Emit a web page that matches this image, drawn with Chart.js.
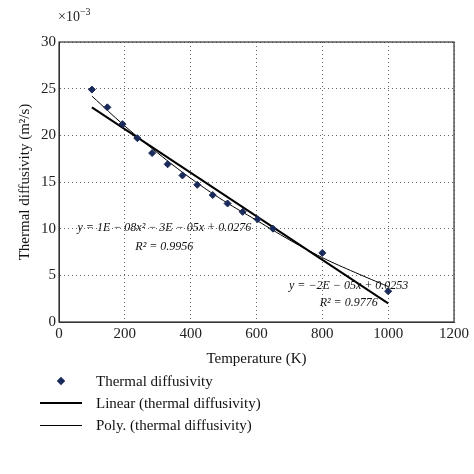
<!DOCTYPE html>
<html>
<head>
<meta charset="utf-8">
<script src="https://cdn.jsdelivr.net/npm/chart.js@4"></script>
<style>
  body { margin: 0; background: #fff; font-family: "Liberation Serif", serif; }
  #wrap { position: relative; width: 474px; height: 372px; }
  #exp { position: absolute; left: 58px; top: 6px; font-size: 14px; color: #222; }
  #legend { position: absolute; left: 40px; top: 370px; font-size: 15px; color: #111; }
  .row { display: flex; align-items: center; height: 22px; }
  .sym { width: 42px; display: flex; justify-content: center; margin-right: 14px; }
</style>
</head>
<body>
<div id="wrap"><canvas id="chart"></canvas><div id="exp">×10<sup style="font-size:10px">−3</sup></div></div>
<div id="legend">
  <div class="row"><div class="sym"><div style="width:6px;height:6px;background:#1a2a5a;transform:rotate(45deg)"></div></div>Thermal diffusivity</div>
  <div class="row"><div class="sym"><div style="width:42px;height:2px;background:#000"></div></div>Linear (thermal diffusivity)</div>
  <div class="row"><div class="sym"><div style="width:42px;height:1px;background:#000"></div></div>Poly. (thermal diffusivity)</div>
</div>
<script>
const temps = [100, 147, 193, 238, 283, 330, 375, 420, 467, 512, 558, 603, 650, 800, 1000];
const diffusivity = [24.9, 23.0, 21.2, 19.7, 18.1, 16.9, 15.7, 14.7, 13.6, 12.7, 11.8, 11.0, 10.0, 7.4, 3.3];
const linearX = [100, 1000];
const linearY = [23.0, 2.0];
const polyX = [100, 200, 300, 400, 500, 600, 700, 800, 900, 1000];
const polyY = [24.2, 21.0, 18.1, 15.4, 13.0, 10.9, 8.8, 6.9, 5.3, 3.8];

const pts = (xs, ys) => xs.map((x, i) => ({x: x, y: ys[i]}));

const labelsPlugin = {
  id: 'eqs',
  afterDatasetsDraw(chart) {
    const c = chart.ctx, xs = chart.scales.x, ys = chart.scales.y;
    c.save();
    c.font = 'italic 12px "Liberation Serif"';
    c.fillStyle = '#111';
    c.textAlign = 'center';
    c.fillText('y = 1E − 08x² − 3E − 05x + 0.0276', xs.getPixelForValue(320), ys.getPixelForValue(9.7));
    c.fillText('R² = 0.9956', xs.getPixelForValue(320), ys.getPixelForValue(7.7));
    c.fillText('y = −2E − 05x + 0.0253', xs.getPixelForValue(880), ys.getPixelForValue(3.5));
    c.fillText('R² = 0.9776', xs.getPixelForValue(880), ys.getPixelForValue(1.7));
    c.restore();
  }
};

new Chart(document.getElementById('chart'), {
  type: 'scatter',
  data: {
    datasets: [
      {data: pts(temps, diffusivity), pointStyle: 'rectRot', pointRadius: 3.5,
       backgroundColor: '#1a2a5a', borderColor: '#1a2a5a'},
      {type: 'line', data: pts(linearX, linearY), borderColor: '#000', borderWidth: 2, pointRadius: 0},
      {type: 'line', data: pts(polyX, polyY), borderColor: '#000', borderWidth: 1, pointRadius: 0, tension: 0.4},
    ],
  },
  options: {
    responsive: true,
    maintainAspectRatio: false,
    animation: false,
    layout: {padding: {top: 42, right: 20, left: 12}},
    plugins: {legend: {display: false}, tooltip: {enabled: false}},
    scales: {
      x: {
        min: 0, max: 1200,
        ticks: {stepSize: 200, color: '#222', font: {family: 'Liberation Serif', size: 15}, callback: v => String(v)},
        grid: {color: '#666', drawTicks: false},
        border: {display: true, color: '#333', dash: [1, 3]},
        title: {display: true, text: 'Temperature (K)', color: '#111', font: {family: 'Liberation Serif', size: 15}},
      },
      y: {
        min: 0, max: 30,
        ticks: {stepSize: 5, color: '#222', font: {family: 'Liberation Serif', size: 15}},
        grid: {color: '#666', drawTicks: false},
        border: {display: true, color: '#333', dash: [1, 3]},
        title: {display: true, text: 'Thermal diffusivity (m²/s)', color: '#111', font: {family: 'Liberation Serif', size: 15}},
      },
    },
  },
  plugins: [labelsPlugin, {
    id: 'frame',
    beforeDatasetsDraw(chart) {
      const a = chart.chartArea, c = chart.ctx;
      c.save();
      c.strokeStyle = '#333';
      c.lineWidth = 1.2;
      c.strokeRect(a.left, a.top, a.right - a.left, a.bottom - a.top);
      c.restore();
    }
  }],
});
</script>
</body>
</html>
